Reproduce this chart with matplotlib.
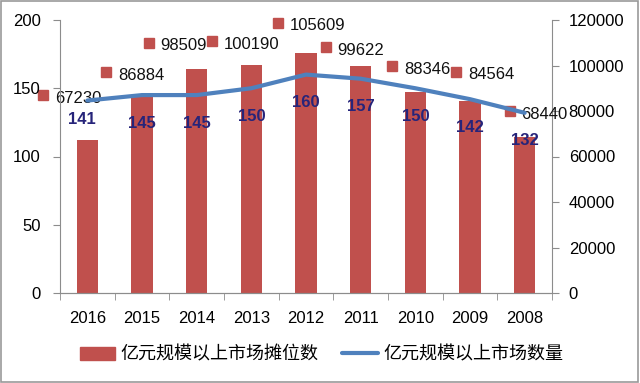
import matplotlib
matplotlib.use("Agg")
import matplotlib.pyplot as plt
import matplotlib.transforms as mtransforms
from matplotlib.patches import Rectangle

plt.rcParams['font.family'] = ['Liberation Sans', 'Noto Sans CJK SC', 'DejaVu Sans']

years = ['2016', '2015', '2014', '2013', '2012', '2011', '2010', '2009', '2008']
stalls = [67230, 86884, 98509, 100190, 105609, 99622, 88346, 84564, 68440]
markets = [141, 145, 145, 150, 160, 157, 150, 142, 132]
bar_label = '亿元规模以上市场摊位数'
line_label = '亿元规模以上市场数量'

# label nudges in pixels (dx, dy above bar top)
bar_lbl_off = [(-9, 42), (-1, 20), (-13, 23), (0, 21), (12, 27), (0, 16), (12, 23), (21, 26), (20, 23)]

bar_color = '#C0504D'
line_color = '#4F81BD'
spine_color = '#8C8C8C'
PX = 0.72  # points per pixel at 100 dpi

fig = plt.figure(figsize=(6.4, 3.83), dpi=100)
ax = fig.add_axes([60 / 640, 90 / 383, 492 / 640, 273 / 383])
ax2 = ax.twinx()

x = list(range(len(years)))

# bars on right axis
ax2.bar(x, stalls, width=0.39, color=bar_color, zorder=2)
ax2.set_ylim(0, 120000)
ax2.set_yticks(range(0, 120001, 20000))

# line on left axis, drawn above bars
ax.set_zorder(ax2.get_zorder() + 1)
ax.patch.set_visible(False)
ax.plot(x, markets, color=line_color, lw=3, solid_joinstyle='round', solid_capstyle='round')
ax.set_ylim(0, 200)
ax.set_yticks(range(0, 201, 50))
ax.set_xlim(-0.5, len(years) - 0.5)

for i, v in enumerate(markets):
    dy = -19 if i == 0 else -28
    dx = -5 if i == 0 else 0
    ax.annotate(str(v), (i, v), xytext=(dx * PX, dy * PX), textcoords='offset points',
                ha='center', va='center', fontsize=12, fontweight='bold', color='#26247A')

for i, v in enumerate(stalls):
    dx, dy = bar_lbl_off[i]
    lbl = str(v)
    ax2.annotate(lbl, (i, v), xytext=(dx * PX, dy * PX), textcoords='offset points',
                 ha='center', va='center', fontsize=12, color='#111111', zorder=5,
                 annotation_clip=False)
    sq_dx = dx - len(lbl) * 4.6 - 12
    tr = mtransforms.offset_copy(ax2.transData, fig=fig, x=sq_dx * PX, y=(dy + 3) * PX, units='points')
    ax2.plot([i], [v], marker='s', ms=7, color=bar_color, transform=tr, zorder=5, clip_on=False)

# x ticks: labels at centers, tick marks at boundaries
ax.set_xticks(x)
ax.set_xticklabels(years, fontsize=12)
ax.set_xticks([i - 0.5 for i in range(len(years) + 1)], minor=True)
ax.tick_params(axis='x', which='major', length=0, pad=13)
ax.tick_params(axis='x', which='minor', length=5, color=spine_color, direction='out')
ax.tick_params(axis='y', length=5, color=spine_color, labelsize=12, pad=9)
ax2.tick_params(axis='y', length=5, color=spine_color, labelsize=12, pad=7)

for a in (ax, ax2):
    a.spines['top'].set_visible(False)
    for s in ('left', 'right', 'bottom'):
        a.spines[s].set_color(spine_color)
ax.spines['right'].set_visible(False)
ax2.spines['left'].set_visible(False)

handles = [Rectangle((0, 0), 1, 1, color=bar_color),
           plt.Line2D([], [], color=line_color, lw=3, solid_capstyle='round')]
fig.legend(handles, [bar_label, line_label], loc='center left', bbox_to_anchor=(64 / 640, 1 - 355 / 383),
           ncol=2, frameon=False, fontsize=13, handlelength=1.95, handletextpad=0.3, columnspacing=1.3)

fig.patches.append(Rectangle((0.002, 0.003), 0.995, 0.994, transform=fig.transFigure,
                             fill=False, edgecolor='#999999', lw=1.2))

fig.savefig('out.png', dpi=100)
